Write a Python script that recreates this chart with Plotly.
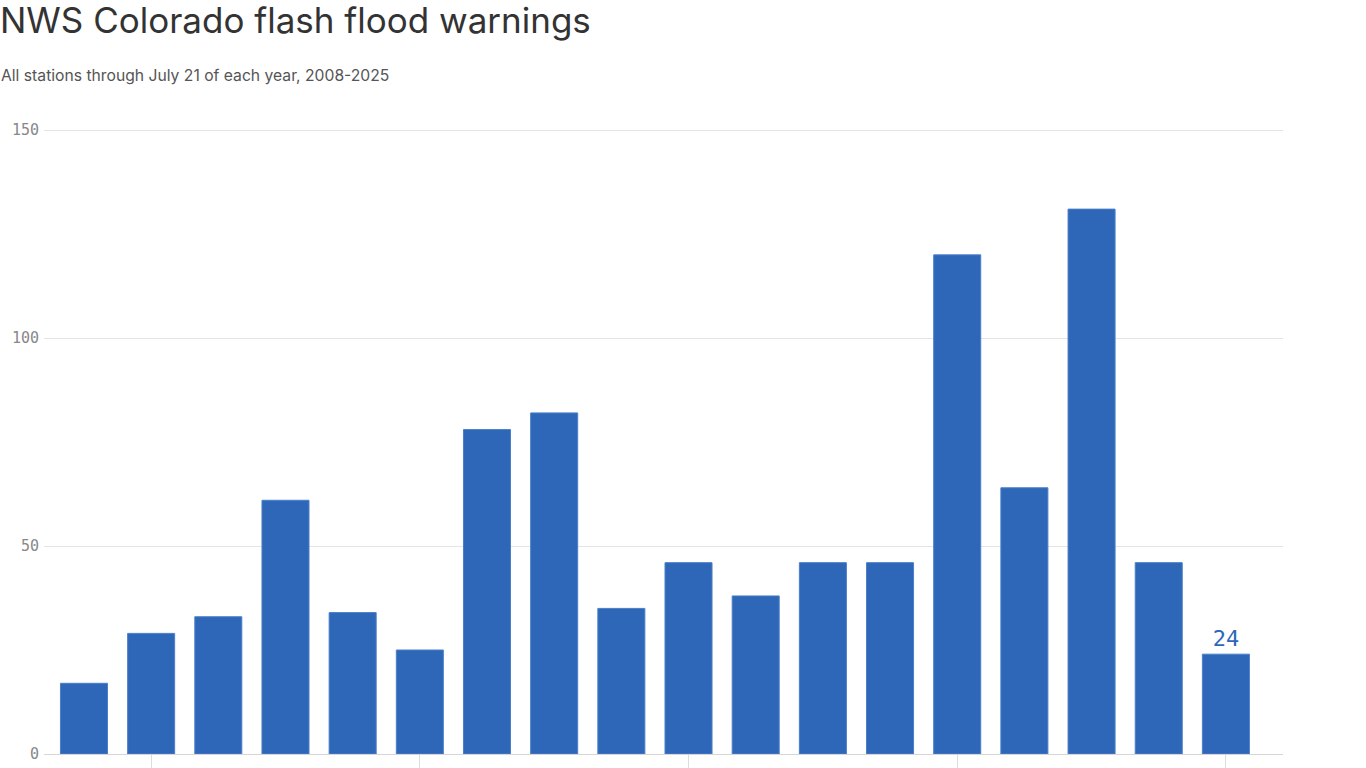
import plotly.graph_objects as go

years = list(range(2008, 2026))
warnings = [17, 29, 33, 61, 34, 25, 78, 82, 35, 46, 38, 46, 46, 120, 64, 131, 46, 24]
tick_years = [2009, 2013, 2017, 2021, 2025]
y_ticks = [0, 50, 100, 150]

title = "NWS Colorado flash flood warnings"
subtitle = "All stations through July 21 of each year, 2008-2025"

BLUE = "#2e67b8"
labels = [str(v) if i == len(warnings) - 1 else "" for i, v in enumerate(warnings)]

fig = go.Figure(go.Bar(
    x=years, y=warnings,
    marker=dict(color=BLUE, line=dict(color="#4a7fc9", width=1)),
    text=labels, textposition="outside", cliponaxis=False,
    textfont=dict(family="DejaVu Sans Mono", size=22, color=BLUE),
    hoverinfo="x+y",
))

W, H = 1366, 768
L, R, T, B = 44, 83, 128, 14
pw, ph = W - L - R, H - T - B

def px_x(p):
    return (p - L) / pw

def px_y(p):
    return (H - B - p) / ph

fig.update_layout(
    width=W, height=H,
    margin=dict(l=L, r=R, t=T, b=B, autoexpand=False),
    paper_bgcolor="white", plot_bgcolor="white",
    bargap=0.3, showlegend=False,
    xaxis=dict(
        range=[2007.405, 2025.85],
        tickmode="array", tickvals=tick_years, ticktext=[str(t) for t in tick_years],
        showticklabels=False,
        ticks="outside", ticklen=20, tickcolor="#dddddd", tickwidth=1,
        showgrid=False, showline=True, linecolor="#d6d6d6", linewidth=1,
        zeroline=False, automargin=False,
    ),
    yaxis=dict(
        range=[0, 150.5],
        tickmode="array", tickvals=y_ticks,
        showgrid=True, gridcolor="#e4e4e4", gridwidth=1,
        zeroline=False, showline=False, ticks="", automargin=False,
        ticklabelstandoff=4,
        tickfont=dict(family="DejaVu Sans Mono", size=15, color="#888888"),
    ),
    annotations=[
        dict(text=title, xref="paper", yref="paper", x=px_x(-2), y=px_y(20),
             xanchor="left", yanchor="middle", showarrow=False,
             font=dict(family="Inter", size=35, color="#333333")),
        dict(text=subtitle, xref="paper", yref="paper", x=px_x(-1), y=px_y(75),
             xanchor="left", yanchor="middle", showarrow=False,
             font=dict(family="Inter", size=15.7, color="#555555")),
    ],
)

fig.write_html("out.html")
